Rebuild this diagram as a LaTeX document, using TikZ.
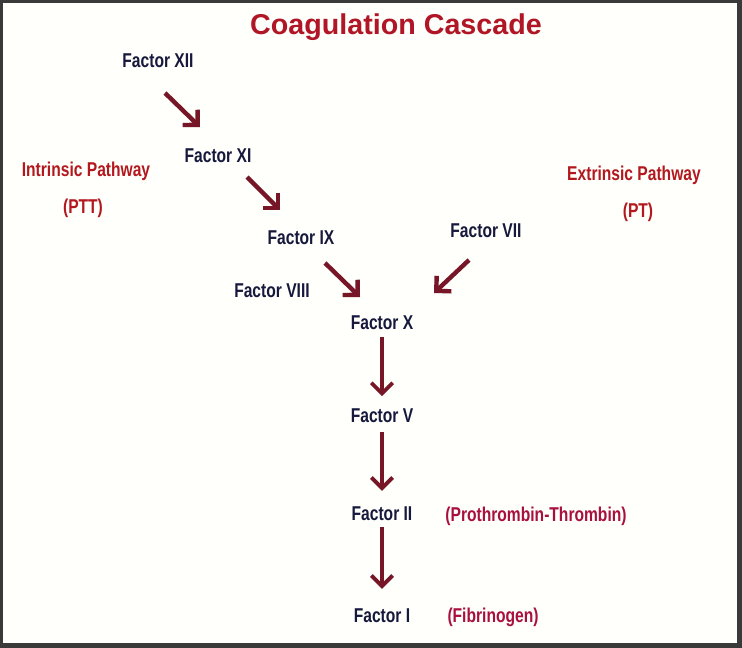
\documentclass[tikz,border=0pt]{standalone}
\usepackage{amsmath}
\usepackage{xcolor}
\usepackage{tikz}
\usepackage{fontspec}
\usetikzlibrary{arrows.meta,calc}
\newfontfamily\titlefont{Liberation Sans}
\newfontfamily\handfont{Liberation Sans}[FakeStretch=0.78]

\begin{document}
\begin{tikzpicture}[x=0.75pt,y=0.75pt,yscale=-1,xscale=1,
  factor/.style={font=\handfont\bfseries\fontsize{15}{18}\selectfont,text={rgb,255:red,22;green,24;blue,60},inner sep=0pt},
  pathway/.style={font=\handfont\bfseries\fontsize{15}{18}\selectfont,text={rgb,255:red,178;green,24;blue,30},inner sep=0pt,anchor=base},
  aside/.style={font=\handfont\bfseries\fontsize{15}{18}\selectfont,text={rgb,255:red,168;green,16;blue,62},inner sep=0pt,anchor=base},
  casc/.style={-{Straight Barb[length=8pt,width=16pt]},line width=2.8pt,color={rgb,255:red,118;green,22;blue,38}},
  slant/.style={casc,line width=3.3pt}]

\useasboundingbox (0,0) rectangle (742,648);
\fill [color={rgb, 255:red, 58; green, 58; blue, 58 }] (0,0) rectangle (742,648);
\fill [color={rgb, 255:red, 255; green, 255; blue, 251 }] (3,3) rectangle (737,643);

\node [font=\titlefont\bfseries\fontsize{21.5}{26}\selectfont,text={rgb,255:red,176;green,22;blue,38},inner sep=0pt,anchor=base] (title) at (396,35) {Coagulation Cascade};

\node [pathway] (intr) at (86,177) {Intrinsic Pathway};
\node [pathway] (ptt) at (83,214) {(PTT)};
\node [pathway] (extr) at (634,181) {Extrinsic Pathway};
\node [pathway] (pt) at (638,218) {(PT)};

\node [factor] (fxii) at (158,61) {Factor XII};
\node [factor] (fxi) at (218,156) {Factor XI};
\node [factor] (fix) at (301,238) {Factor IX};
\node [factor] (fviii) at (272,291) {Factor VIII};
\node [factor] (fvii) at (486,231) {Factor VII};
\node [factor] (fx) at (382,323) {Factor X};
\node [factor] (fv) at (382,416) {Factor V};
\node [factor] (fii) at (382,514) {Factor II};
\node [factor] (fi) at (382,616) {Factor I};

\node [aside] (thromb) at (536,521) {(Prothrombin-Thrombin)};
\node [aside] (fibr) at (493,622) {(Fibrinogen)};

\draw [slant] ($(fxii)+(7,32)$) -- ($(fxi)+(-18,-29)$);
\draw [slant] ($(fxi)+(29,21)$) -- ($(fix)+(-21,-28)$);
\draw [slant] ($(fix)+(24,25)$) -- ($(fx)+(-22,-26)$);
\draw [slant] ($(fvii)+(-17,29)$) -- ($(fx)+(52,-30)$);

\draw [casc,shorten <=5pt,shorten >=9.5pt] (fx) -- (fv);
\draw [casc,shorten <=6.5pt,shorten >=12pt] (fv) -- (fii);
\draw [casc,shorten <=4.5pt,shorten >=15pt] (fii) -- (fi);
\end{tikzpicture}
\end{document}
